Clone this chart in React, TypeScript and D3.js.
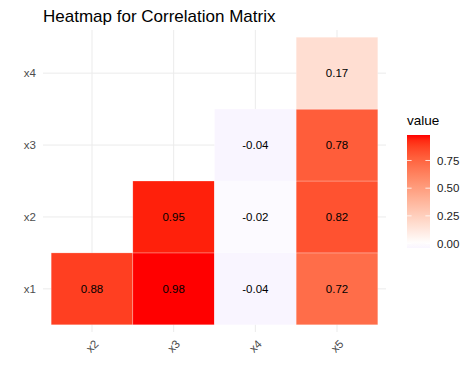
import React from "react";
import * as d3 from "d3";

const xCats = ["x2", "x3", "x4", "x5"];
const yCats = ["x1", "x2", "x3", "x4"];
const cells: { x: string; y: string; v: number }[] = [
  { x: "x2", y: "x1", v: 0.88 },
  { x: "x3", y: "x1", v: 0.98 },
  { x: "x4", y: "x1", v: -0.04 },
  { x: "x5", y: "x1", v: 0.72 },
  { x: "x3", y: "x2", v: 0.95 },
  { x: "x4", y: "x2", v: -0.02 },
  { x: "x5", y: "x2", v: 0.82 },
  { x: "x4", y: "x3", v: -0.04 },
  { x: "x5", y: "x3", v: 0.78 },
  { x: "x5", y: "x4", v: 0.17 },
];
const legendBreaks = [0, 0.25, 0.5, 0.75];

const W = 474, H = 379;
const panel = { left: 43, right: 386, top: 30, bottom: 332 };
const font = "'Liberation Sans', Arial, sans-serif";

export default function App() {
  // discrete positions: panel covers [0.4, 4.6] in index units (1-based)
  const xs = d3.scaleLinear().domain([0.4, 4.6]).range([panel.left, panel.right]);
  const ys = d3.scaleLinear().domain([0.4, 4.6]).range([panel.bottom, panel.top]);
  const xi = (c: string) => xCats.indexOf(c) + 1;
  const yi = (c: string) => yCats.indexOf(c) + 1;

  const vmin = d3.min(cells, (d) => d.v)!;
  const vmax = d3.max(cells, (d) => d.v)!;
  const extent = Math.max(Math.abs(vmin), Math.abs(vmax));
  const hi = d3.interpolateLab("white", "red");
  const lo = d3.interpolateLab("white", "blue");
  const color = (v: number) => (v >= 0 ? hi(v / extent) : lo(-v / extent));

  // legend
  const lg = { x: 407, w: 23, top: 135, bottom: 248 };
  const ls = d3.scaleLinear().domain([vmin, vmax]).range([lg.bottom, lg.top]);
  const stops = d3.range(0, 21).map((i) => {
    const v = vmin + ((vmax - vmin) * i) / 20;
    return { off: i / 20, c: color(v) };
  });

  return (
    <svg width={W} height={H} style={{ position: "absolute", left: 0, top: 0, background: "white" }} fontFamily={font}>
      <defs>
        <linearGradient id="lg" x1="0" y1="1" x2="0" y2="0">
          {stops.map((s, i) => (
            <stop key={i} offset={s.off} stopColor={s.c} />
          ))}
        </linearGradient>
      </defs>
      <rect width={W} height={H} fill="white" />
      <text x={43} y={22} fontSize={17} fill="#000">Heatmap for Correlation Matrix</text>
      {/* grid */}
      {xCats.map((c) => (
        <line key={"gx" + c} x1={xs(xi(c))} x2={xs(xi(c))} y1={panel.top} y2={panel.bottom} stroke="#ebebeb" strokeWidth={1} />
      ))}
      {yCats.map((c) => (
        <line key={"gy" + c} y1={ys(yi(c))} y2={ys(yi(c))} x1={panel.left} x2={panel.right} stroke="#ebebeb" strokeWidth={1} />
      ))}
      {/* tiles */}
      {cells.map((d, i) => {
        const x0 = xs(xi(d.x) - 0.5), x1 = xs(xi(d.x) + 0.5);
        const y0 = ys(yi(d.y) + 0.5), y1 = ys(yi(d.y) - 0.5);
        return (
          <rect key={"t" + i} x={x0} y={y0} width={x1 - x0} height={y1 - y0} fill={color(d.v)} stroke="white" strokeOpacity={0.5} strokeWidth={0.5} />
        );
      })}
      {cells.map((d, i) => (
        <text key={"l" + i} x={xs(xi(d.x))} y={ys(yi(d.y))} dy="0.36em" textAnchor="middle" fontSize={11.5} fill="#000">
          {d.v.toFixed(2)}
        </text>
      ))}
      {/* y axis labels */}
      {yCats.map((c) => (
        <text key={"ya" + c} x={36} y={ys(yi(c))} dy="0.36em" textAnchor="end" fontSize={11.5} fill="#4d4d4d">
          {c}
        </text>
      ))}
      {/* x axis labels */}
      {xCats.map((c) => (
        <text key={"xa" + c} transform={`translate(${xs(xi(c))},${346}) rotate(-45)`} dy="0.36em" textAnchor="middle" fontSize={11.5} fill="#4d4d4d">
          {c}
        </text>
      ))}
      {/* legend */}
      <text x={lg.x} y={125} fontSize={13.5} fill="#000">value</text>
      <rect x={lg.x} y={lg.top} width={lg.w} height={lg.bottom - lg.top} fill="url(#lg)" />
      {legendBreaks.map((b) => (
        <g key={"lb" + b}>
          <line x1={lg.x} x2={lg.x + 4.6} y1={ls(b)} y2={ls(b)} stroke="white" strokeWidth={0.8} />
          <line x1={lg.x + lg.w - 4.6} x2={lg.x + lg.w} y1={ls(b)} y2={ls(b)} stroke="white" strokeWidth={0.8} />
          <text x={437} y={ls(b)} dy="0.36em" fontSize={11.5} fill="#1a1a1a">{b.toFixed(2)}</text>
        </g>
      ))}
    </svg>
  );
}
